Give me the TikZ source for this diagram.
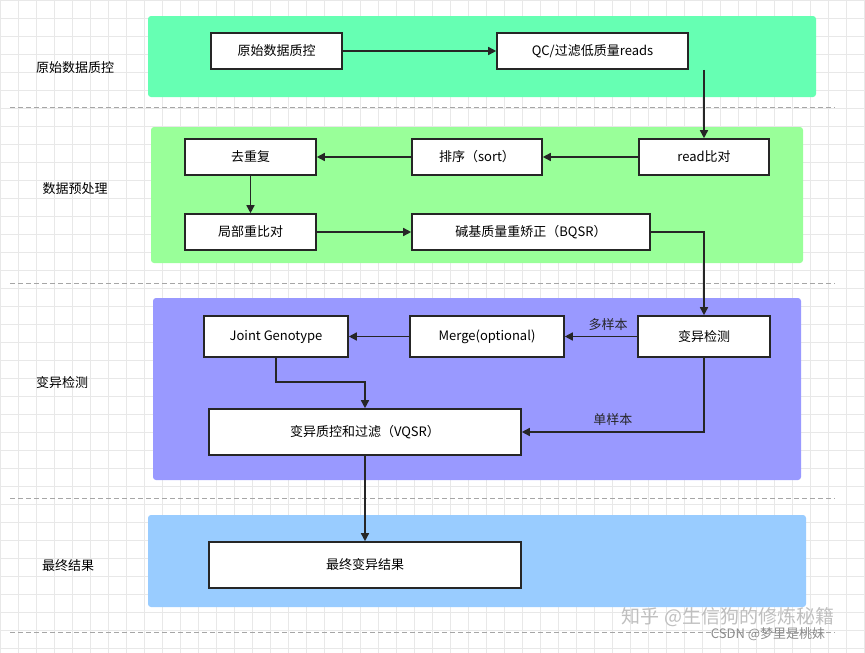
\documentclass[tikz,border=0pt]{standalone}
\usepackage{fontspec}
\setmainfont{Noto Sans CJK SC}
\usetikzlibrary{arrows.meta}
\begin{document}
\begin{tikzpicture}[x=1pt,y=-1pt,
  box/.style={draw=black!85,line width=1.6pt,fill=white,font=\fontsize{13}{15}\selectfont},
  band/.style={rounded corners=3pt,draw=none},
  arr/.style={-{Triangle[length=8pt,width=8pt]},line width=1.5pt,black!85},
  lab/.style={font=\fontsize{13}{15}\selectfont},
  sep/.style={dashed,gray!70,line width=1pt,dash pattern=on 5pt off 3pt}]
\useasboundingbox (0,0) rectangle (865,653);
\fill[white] (0,0) rectangle (865,653);
\foreach \i in {0,18,...,864} \draw[black!9,line width=0.6pt] (\i,0) -- (\i,653);
\foreach \j in {0,18,...,652} \draw[black!9,line width=0.6pt] (0,\j) -- (865,\j);
\definecolor{b1}{HTML}{66FFB3}\definecolor{b2}{HTML}{99FF99}
\definecolor{b3}{HTML}{9999FF}\definecolor{b4}{HTML}{99CCFF}
\fill[band,b1] (148,16) rectangle (816,97);
\fill[band,b2] (151,127) rectangle (803,263);
\fill[band,b3] (153,298) rectangle (801,480);
\fill[band,b4] (148,515) rectangle (806,607);
\foreach \y in {107,283,498,632} \draw[sep] (10,\y) -- (835,\y);
\node[lab] (l1) at (75,68) {原始数据质控};
\node[lab] (l2) at (75,189) {数据预处理};
\node[lab] (l3) at (62,383) {变异检测};
\node[lab] (l4) at (68,566) {最终结果};
\node[box,minimum width=131pt,minimum height=36pt] (a) at (276.5,51) {原始数据质控};
\node[box,minimum width=191pt,minimum height=36pt] (b) at (592.5,51) {QC/过滤低质量reads};
\node[box,minimum width=130pt,minimum height=36pt] (c) at (704,157) {read比对};
\node[box,minimum width=130pt,minimum height=36pt] (d) at (477,157) {排序（sort）};
\node[box,minimum width=131pt,minimum height=36pt] (e) at (250.5,157) {去重复};
\node[box,minimum width=131pt,minimum height=36pt] (f) at (250.5,232) {局部重比对};
\node[box,minimum width=238pt,minimum height=36pt] (g) at (531,232) {碱基质量重矫正（BQSR）};
\node[box,minimum width=132pt,minimum height=41pt] (h) at (704,336.5) {变异检测};
\node[box,minimum width=154pt,minimum height=41pt] (i) at (487,336.5) {Merge(optional)};
\node[box,minimum width=144pt,minimum height=41pt] (j) at (276,336.5) {Joint Genotype};
\node[box,minimum width=312pt,minimum height=46pt] (k) at (365,432) {变异质控和过滤（VQSR）};
\node[box,minimum width=312pt,minimum height=46pt] (m) at (365,565) {最终变异结果};
\draw[arr] (a) -- (b);
\draw[arr] (b.south -| c) -- (c);
\draw[arr] (c) -- (d);
\draw[arr] (d) -- (e);
\draw[arr] (e) -- (f);
\draw[arr] (f) -- (g);
\draw[arr] (g.east) -| (h.north);
\draw[arr] (h) -- node[lab,above,pos=0.4,yshift=2pt] {多样本} (i);
\draw[arr] (i) -- (j);
\draw[arr] (j.south) -- (276,382) -| (k.north);
\draw[arr] (h.south) |- node[lab,above,pos=0.75,yshift=2pt] {单样本} (k.east);
\draw[arr] (k) -- (m);
\node[font=\fontsize{19}{21}\selectfont,text=black!25] (w1) at (728,617) {知乎 @生信狗的修炼秘籍};
\node[font=\fontsize{13}{15}\selectfont,text=black!45] (w2) at (768,634) {CSDN @梦里是桃妹};
\end{tikzpicture}
\end{document}
